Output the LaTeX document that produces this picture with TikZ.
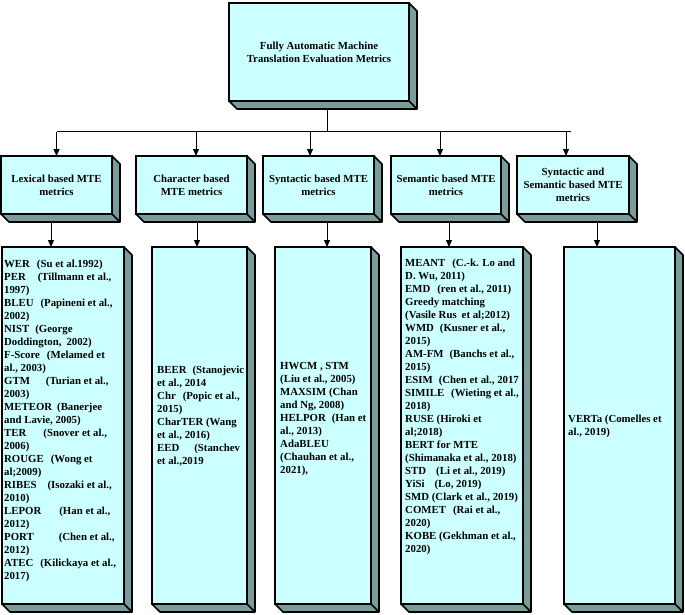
\documentclass[tikz,border=0pt]{standalone}
\usepackage{fontspec}
\setmainfont{Liberation Serif}
\usepackage{xcolor}
\usetikzlibrary{calc}
\usetikzlibrary{arrows.meta}
\definecolor{facecyan}{RGB}{204,255,255}
\definecolor{sidegray}{RGB}{122,156,154}
\tikzstyle{cube} = [draw=black, fill=facecyan, line width=1.6pt,
rectangle, inner sep=0pt, outer sep=0pt, anchor=north west, align=center,
font=\fontsize{10.8}{13}\selectfont\bfseries]
\tikzstyle{listtext} = [inner sep=0pt, anchor=west, align=left,
font=\fontsize{10.8}{13}\selectfont\bfseries]
\tikzstyle{link} = [draw=black, line width=1pt]
\tikzstyle{arr} = [link, -{Triangle[length=7pt,width=6pt]}]
\newcommand{\cubeside}[1]{%
\filldraw [fill=sidegray, draw=black, line width=1.6pt, line join=round]
    (#1.north east) -- ++(8,8) -- ($(#1.south east)+(8,8)$) --
    ($(#1.south west)+(8,8)$) -- (#1.south west) -- (#1.south east) -- cycle;
\draw [line width=1.6pt] (#1.south east) -- ++(8,8);
}
\newcommand{\gp}[1]{\hspace{#1pt}}

\begin{document}
\begin{tikzpicture}[x=1pt, y=-1pt]
        \useasboundingbox (0,0) rectangle (685,615);
        % root
        \node [cube, minimum width=180pt, minimum height=98pt] (top) at (229,3)
            {Fully Automatic Machine\\Translation Evaluation Metrics};
        \cubeside{top}
        % categories
        \node [cube, minimum width=111pt, minimum height=58pt] (lex) at (1,156)
            {Lexical based MTE\\metrics};
        \node [cube, minimum width=111pt, minimum height=58pt] (chr) at (136,156)
            {Character based\\MTE metrics};
        \node [cube, minimum width=111pt, minimum height=58pt] (syn) at (263,156)
            {Syntactic based MTE\\metrics};
        \node [cube, minimum width=110pt, minimum height=58pt] (sem) at (391,156)
            {Semantic based MTE\\metrics};
        \node [cube, minimum width=112pt, minimum height=58pt] (ss) at (517,156)
            {Syntactic and\\Semantic based MTE\\metrics};
        \cubeside{lex}
        \cubeside{chr}
        \cubeside{syn}
        \cubeside{sem}
        \cubeside{ss}
        % metric lists
        \node [cube, minimum width=122pt, minimum height=357pt] (lexd) at (2,247) {};
        \node [cube, minimum width=95pt, minimum height=357pt] (chrd) at (152,247) {};
        \node [cube, minimum width=96pt, minimum height=357pt] (synd) at (275,247) {};
        \node [cube, minimum width=122pt, minimum height=357pt] (semd) at (401,247) {};
        \node [cube, minimum width=111pt, minimum height=357pt] (ssd) at (564,247) {};
        \cubeside{lexd}
        \cubeside{chrd}
        \cubeside{synd}
        \cubeside{semd}
        \cubeside{ssd}

        \node [listtext] (lext) at ($(lexd.west)+(2,-5)$) {%
            WER\gp{7}(Su et al.1992)\\
            PER\gp{12}(Tillmann et al.,\\
            1997)\\
            BLEU\gp{7}(Papineni et al.,\\
            2002)\\
            NIST\gp{6}(George\\
            Doddington,\gp{5}2002)\\
            F-Score\gp{7}(Melamed et\\
            al., 2003)\\
            GTM\gp{16}(Turian et al.,\\
            2003)\\
            METEOR\gp{5}(Banerjee\\
            and Lavie, 2005)\\
            TER\gp{17}(Snover et al.,\\
            2006)\\
            ROUGE\gp{7}(Wong et\\
            al;2009)\\
            RIBES\gp{11}(Isozaki et al.,\\
            2010)\\
            LEPOR\gp{18}(Han et al.,\\
            2012)\\
            PORT\gp{25}(Chen et al.,\\
            2012)\\
            ATEC\gp{7}(Kilickaya et al.,\\
            2017)};
        \node [listtext] (chrt) at ($(chrd.west)+(5,-9)$) {%
            BEER\gp{6}(Stanojevic\\
            et al., 2014\\
            Chr\gp{7}(Popic et al.,\\
            2015)\\
            CharTER (Wang\\
            et al., 2016)\\
            EED\gp{15}(Stanchev\\
            et al.,2019};
        \node [listtext] (synt) at ($(synd.west)+(5,-6)$) {%
            HWCM , STM\\
            (Liu et al., 2005)\\
            MAXSIM (Chan\\
            and Ng, 2008)\\
            HELPOR\gp{6}(Han et\\
            al., 2013)\\
            AdaBLEU\\
            (Chauhan et al.,\\
            2021),};
        \node [listtext] (semt) at ($(semd.west)+(4,-19)$) {%
            MEANT\gp{7}(C.-k. Lo and\\
            D. Wu, 2011)\\
            EMD\gp{7}(ren et al., 2011)\\
            Greedy matching\\
            (Vasile Rus\gp{5}et al;2012)\\
            WMD\gp{6}(Kusner et al.,\\
            2015)\\
            AM-FM\gp{6}(Banchs et al.,\\
            2015)\\
            ESIM\gp{6}(Chen et al., 2017\\
            SIMILE\gp{7}(Wieting et al.,\\
            2018)\\
            RUSE (Hiroki et\\
            al;2018)\\
            BERT for MTE\\
            (Shimanaka et al., 2018)\\
            STD\gp{10}(Li et al., 2019)\\
            YiSi\gp{10}(Lo, 2019)\\
            SMD (Clark et al., 2019)\\
            COMET\gp{7}(Rai et al.,\\
            2020)\\
            KOBE (Gekhman et al.,\\
            2020)};
        \node [listtext] (sst) at ($(ssd.west)+(4,1)$) {%
            VERTa (Comelles et\\
            al., 2019)};

        % connectors
        \coordinate (topout) at ($(top.south)+(8,8)$);
        \coordinate (bus) at ($(top.south)+(8,31)$);
        \coordinate (lexin) at (lex.north);
        \coordinate (chrin) at ($(chr.north)+(4.5,0)$);
        \coordinate (synin) at ($(syn.north)+(-8.5,0)$);
        \coordinate (semin) at ($(sem.north)+(-6,0)$);
        \coordinate (ssin) at ($(ss.north)+(-7,0)$);
        \coordinate (busend) at ($(ssin |- bus)+(5,0)$);
        \draw [link] (topout) -- (bus);
        \draw [link] (lexin |- bus) -- (busend);
        \draw [arr] (lexin |- bus) -- (lexin);
        \draw [arr] (chrin |- bus) -- (chrin);
        \draw [arr] (synin |- bus) -- (synin);
        \draw [arr] (semin |- bus) -- (semin);
        \draw [arr] (ssin |- bus) -- (ssin);

        \coordinate (lexout) at ($(lex.south)+(-5.5,8)$);
        \coordinate (chrout) at ($(chr.south)+(5.5,8)$);
        \coordinate (synout) at ($(syn.south)+(8.5,8)$);
        \coordinate (semout) at ($(sem.south)+(3,8)$);
        \coordinate (ssout) at ($(ss.south)+(24,8)$);
        \draw [arr] (lexout) -- (lexout |- lexd.north);
        \draw [arr] (chrout) -- (chrout |- chrd.north);
        \draw [arr] (synout) -- (synout |- synd.north);
        \draw [arr] (semout) -- (semout |- semd.north);
        \draw [arr] (ssout) -- (ssout |- ssd.north);
    \end{tikzpicture}
\end{document}
